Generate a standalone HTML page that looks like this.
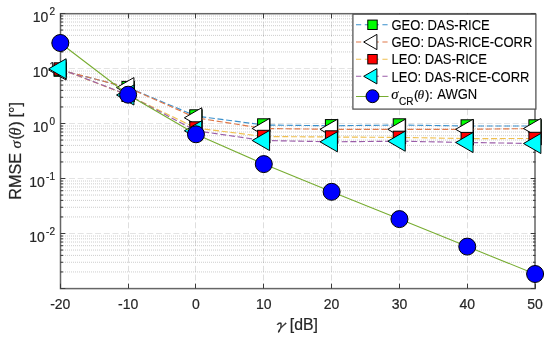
<!DOCTYPE html>
<html><head><meta charset="utf-8"><title>RMSE vs gamma</title>
<style>
html,body{margin:0;padding:0;background:#fff;}
body{width:550px;height:340px;overflow:hidden;}
svg{display:block;}
.t{font-family:"Liberation Sans",Arial,sans-serif;fill:#262626;stroke:currentColor;stroke-width:0.2px;color:#262626;}
.g{font-family:"IPAGothic","Liberation Serif",serif;font-style:italic;}
.s{font-family:"Liberation Serif",serif;font-style:italic;}
</style></head><body>
<div class="wrap"><svg width="550" height="340" viewBox="0 0 550 340">
<rect x="0" y="0" width="550" height="340" fill="#fff"/>
<g stroke="#000" stroke-opacity="0.2" stroke-width="1" stroke-dasharray="1 1" fill="none">
<line x1="61" y1="271.94" x2="535.1" y2="271.94"/>
<line x1="61" y1="262.26" x2="535.1" y2="262.26"/>
<line x1="61" y1="255.39" x2="535.1" y2="255.39"/>
<line x1="61" y1="250.06" x2="535.1" y2="250.06"/>
<line x1="61" y1="245.7" x2="535.1" y2="245.7"/>
<line x1="61" y1="242.02" x2="535.1" y2="242.02"/>
<line x1="61" y1="238.83" x2="535.1" y2="238.83"/>
<line x1="61" y1="236.02" x2="535.1" y2="236.02"/>
<line x1="61" y1="216.94" x2="535.1" y2="216.94"/>
<line x1="61" y1="207.26" x2="535.1" y2="207.26"/>
<line x1="61" y1="200.39" x2="535.1" y2="200.39"/>
<line x1="61" y1="195.06" x2="535.1" y2="195.06"/>
<line x1="61" y1="190.7" x2="535.1" y2="190.7"/>
<line x1="61" y1="187.02" x2="535.1" y2="187.02"/>
<line x1="61" y1="183.83" x2="535.1" y2="183.83"/>
<line x1="61" y1="181.02" x2="535.1" y2="181.02"/>
<line x1="61" y1="161.94" x2="535.1" y2="161.94"/>
<line x1="61" y1="152.26" x2="535.1" y2="152.26"/>
<line x1="61" y1="145.39" x2="535.1" y2="145.39"/>
<line x1="61" y1="140.06" x2="535.1" y2="140.06"/>
<line x1="61" y1="135.7" x2="535.1" y2="135.7"/>
<line x1="61" y1="132.02" x2="535.1" y2="132.02"/>
<line x1="61" y1="128.83" x2="535.1" y2="128.83"/>
<line x1="61" y1="126.02" x2="535.1" y2="126.02"/>
<line x1="61" y1="106.94" x2="535.1" y2="106.94"/>
<line x1="61" y1="97.26" x2="535.1" y2="97.26"/>
<line x1="61" y1="90.39" x2="535.1" y2="90.39"/>
<line x1="61" y1="85.06" x2="535.1" y2="85.06"/>
<line x1="61" y1="80.7" x2="535.1" y2="80.7"/>
<line x1="61" y1="77.02" x2="535.1" y2="77.02"/>
<line x1="61" y1="73.83" x2="535.1" y2="73.83"/>
<line x1="61" y1="71.02" x2="535.1" y2="71.02"/>
<line x1="61" y1="51.94" x2="535.1" y2="51.94"/>
<line x1="61" y1="42.26" x2="535.1" y2="42.26"/>
<line x1="61" y1="35.39" x2="535.1" y2="35.39"/>
<line x1="61" y1="30.06" x2="535.1" y2="30.06"/>
<line x1="61" y1="25.7" x2="535.1" y2="25.7"/>
<line x1="61" y1="22.02" x2="535.1" y2="22.02"/>
<line x1="61" y1="18.83" x2="535.1" y2="18.83"/>
<line x1="61" y1="16.02" x2="535.1" y2="16.02"/>
</g>
<g stroke="#000" stroke-opacity="0.11" stroke-width="1" stroke-dasharray="6 2.7" fill="none">
<line x1="60.3" y1="233.5" x2="535.1" y2="233.5"/>
<line x1="60.3" y1="178.5" x2="535.1" y2="178.5"/>
<line x1="60.3" y1="123.5" x2="535.1" y2="123.5"/>
<line x1="60.3" y1="68.5" x2="535.1" y2="68.5"/>
<line x1="128.5" y1="13.5" x2="128.5" y2="288.5" stroke-opacity="0.13"/>
<line x1="195.5" y1="13.5" x2="195.5" y2="288.5" stroke-opacity="0.13"/>
<line x1="263.5" y1="13.5" x2="263.5" y2="288.5" stroke-opacity="0.13"/>
<line x1="331.5" y1="13.5" x2="331.5" y2="288.5" stroke-opacity="0.13"/>
<line x1="399.5" y1="13.5" x2="399.5" y2="288.5" stroke-opacity="0.13"/>
<line x1="467.5" y1="13.5" x2="467.5" y2="288.5" stroke-opacity="0.13"/>
</g>
<g stroke="#3a3a3a" stroke-width="1.05" fill="none">
<rect x="60.5" y="13.7" width="474.5" height="274.9" stroke="#666" stroke-width="1.5"/>
<line x1="60.5" y1="288.5" x2="60.5" y2="283.7"/>
<line x1="60.5" y1="13.5" x2="60.5" y2="18.3"/>
<line x1="128.5" y1="288.5" x2="128.5" y2="283.7"/>
<line x1="128.5" y1="13.5" x2="128.5" y2="18.3"/>
<line x1="195.5" y1="288.5" x2="195.5" y2="283.7"/>
<line x1="195.5" y1="13.5" x2="195.5" y2="18.3"/>
<line x1="263.5" y1="288.5" x2="263.5" y2="283.7"/>
<line x1="263.5" y1="13.5" x2="263.5" y2="18.3"/>
<line x1="331.5" y1="288.5" x2="331.5" y2="283.7"/>
<line x1="331.5" y1="13.5" x2="331.5" y2="18.3"/>
<line x1="399.5" y1="288.5" x2="399.5" y2="283.7"/>
<line x1="399.5" y1="13.5" x2="399.5" y2="18.3"/>
<line x1="467.5" y1="288.5" x2="467.5" y2="283.7"/>
<line x1="467.5" y1="13.5" x2="467.5" y2="18.3"/>
<line x1="535.5" y1="288.5" x2="535.5" y2="283.7"/>
<line x1="535.5" y1="13.5" x2="535.5" y2="18.3"/>
<line x1="60.5" y1="288.5" x2="65.3" y2="288.5"/>
<line x1="535.5" y1="288.5" x2="530.7" y2="288.5"/>
<line x1="60.5" y1="233.5" x2="65.3" y2="233.5"/>
<line x1="535.5" y1="233.5" x2="530.7" y2="233.5"/>
<line x1="60.5" y1="178.5" x2="65.3" y2="178.5"/>
<line x1="535.5" y1="178.5" x2="530.7" y2="178.5"/>
<line x1="60.5" y1="123.5" x2="65.3" y2="123.5"/>
<line x1="535.5" y1="123.5" x2="530.7" y2="123.5"/>
<line x1="60.5" y1="68.5" x2="65.3" y2="68.5"/>
<line x1="535.5" y1="68.5" x2="530.7" y2="68.5"/>
<line x1="60.5" y1="13.5" x2="65.3" y2="13.5"/>
<line x1="535.5" y1="13.5" x2="530.7" y2="13.5"/>
<line x1="60.5" y1="271.94" x2="63.1" y2="271.94"/>
<line x1="535.5" y1="271.94" x2="532.9" y2="271.94"/>
<line x1="60.5" y1="262.26" x2="63.1" y2="262.26"/>
<line x1="535.5" y1="262.26" x2="532.9" y2="262.26"/>
<line x1="60.5" y1="255.39" x2="63.1" y2="255.39"/>
<line x1="535.5" y1="255.39" x2="532.9" y2="255.39"/>
<line x1="60.5" y1="250.06" x2="63.1" y2="250.06"/>
<line x1="535.5" y1="250.06" x2="532.9" y2="250.06"/>
<line x1="60.5" y1="245.7" x2="63.1" y2="245.7"/>
<line x1="535.5" y1="245.7" x2="532.9" y2="245.7"/>
<line x1="60.5" y1="242.02" x2="63.1" y2="242.02"/>
<line x1="535.5" y1="242.02" x2="532.9" y2="242.02"/>
<line x1="60.5" y1="238.83" x2="63.1" y2="238.83"/>
<line x1="535.5" y1="238.83" x2="532.9" y2="238.83"/>
<line x1="60.5" y1="236.02" x2="63.1" y2="236.02"/>
<line x1="535.5" y1="236.02" x2="532.9" y2="236.02"/>
<line x1="60.5" y1="216.94" x2="63.1" y2="216.94"/>
<line x1="535.5" y1="216.94" x2="532.9" y2="216.94"/>
<line x1="60.5" y1="207.26" x2="63.1" y2="207.26"/>
<line x1="535.5" y1="207.26" x2="532.9" y2="207.26"/>
<line x1="60.5" y1="200.39" x2="63.1" y2="200.39"/>
<line x1="535.5" y1="200.39" x2="532.9" y2="200.39"/>
<line x1="60.5" y1="195.06" x2="63.1" y2="195.06"/>
<line x1="535.5" y1="195.06" x2="532.9" y2="195.06"/>
<line x1="60.5" y1="190.7" x2="63.1" y2="190.7"/>
<line x1="535.5" y1="190.7" x2="532.9" y2="190.7"/>
<line x1="60.5" y1="187.02" x2="63.1" y2="187.02"/>
<line x1="535.5" y1="187.02" x2="532.9" y2="187.02"/>
<line x1="60.5" y1="183.83" x2="63.1" y2="183.83"/>
<line x1="535.5" y1="183.83" x2="532.9" y2="183.83"/>
<line x1="60.5" y1="181.02" x2="63.1" y2="181.02"/>
<line x1="535.5" y1="181.02" x2="532.9" y2="181.02"/>
<line x1="60.5" y1="161.94" x2="63.1" y2="161.94"/>
<line x1="535.5" y1="161.94" x2="532.9" y2="161.94"/>
<line x1="60.5" y1="152.26" x2="63.1" y2="152.26"/>
<line x1="535.5" y1="152.26" x2="532.9" y2="152.26"/>
<line x1="60.5" y1="145.39" x2="63.1" y2="145.39"/>
<line x1="535.5" y1="145.39" x2="532.9" y2="145.39"/>
<line x1="60.5" y1="140.06" x2="63.1" y2="140.06"/>
<line x1="535.5" y1="140.06" x2="532.9" y2="140.06"/>
<line x1="60.5" y1="135.7" x2="63.1" y2="135.7"/>
<line x1="535.5" y1="135.7" x2="532.9" y2="135.7"/>
<line x1="60.5" y1="132.02" x2="63.1" y2="132.02"/>
<line x1="535.5" y1="132.02" x2="532.9" y2="132.02"/>
<line x1="60.5" y1="128.83" x2="63.1" y2="128.83"/>
<line x1="535.5" y1="128.83" x2="532.9" y2="128.83"/>
<line x1="60.5" y1="126.02" x2="63.1" y2="126.02"/>
<line x1="535.5" y1="126.02" x2="532.9" y2="126.02"/>
<line x1="60.5" y1="106.94" x2="63.1" y2="106.94"/>
<line x1="535.5" y1="106.94" x2="532.9" y2="106.94"/>
<line x1="60.5" y1="97.26" x2="63.1" y2="97.26"/>
<line x1="535.5" y1="97.26" x2="532.9" y2="97.26"/>
<line x1="60.5" y1="90.39" x2="63.1" y2="90.39"/>
<line x1="535.5" y1="90.39" x2="532.9" y2="90.39"/>
<line x1="60.5" y1="85.06" x2="63.1" y2="85.06"/>
<line x1="535.5" y1="85.06" x2="532.9" y2="85.06"/>
<line x1="60.5" y1="80.7" x2="63.1" y2="80.7"/>
<line x1="535.5" y1="80.7" x2="532.9" y2="80.7"/>
<line x1="60.5" y1="77.02" x2="63.1" y2="77.02"/>
<line x1="535.5" y1="77.02" x2="532.9" y2="77.02"/>
<line x1="60.5" y1="73.83" x2="63.1" y2="73.83"/>
<line x1="535.5" y1="73.83" x2="532.9" y2="73.83"/>
<line x1="60.5" y1="71.02" x2="63.1" y2="71.02"/>
<line x1="535.5" y1="71.02" x2="532.9" y2="71.02"/>
<line x1="60.5" y1="51.94" x2="63.1" y2="51.94"/>
<line x1="535.5" y1="51.94" x2="532.9" y2="51.94"/>
<line x1="60.5" y1="42.26" x2="63.1" y2="42.26"/>
<line x1="535.5" y1="42.26" x2="532.9" y2="42.26"/>
<line x1="60.5" y1="35.39" x2="63.1" y2="35.39"/>
<line x1="535.5" y1="35.39" x2="532.9" y2="35.39"/>
<line x1="60.5" y1="30.06" x2="63.1" y2="30.06"/>
<line x1="535.5" y1="30.06" x2="532.9" y2="30.06"/>
<line x1="60.5" y1="25.7" x2="63.1" y2="25.7"/>
<line x1="535.5" y1="25.7" x2="532.9" y2="25.7"/>
<line x1="60.5" y1="22.02" x2="63.1" y2="22.02"/>
<line x1="535.5" y1="22.02" x2="532.9" y2="22.02"/>
<line x1="60.5" y1="18.83" x2="63.1" y2="18.83"/>
<line x1="535.5" y1="18.83" x2="532.9" y2="18.83"/>
<line x1="60.5" y1="16.02" x2="63.1" y2="16.02"/>
<line x1="535.5" y1="16.02" x2="532.9" y2="16.02"/>
</g>
<g class="t" font-size="14" text-anchor="middle">
<text x="60.3" y="308.5">-20</text>
<text x="128.13" y="308.5">-10</text>
<text x="195.96" y="308.5">0</text>
<text x="263.79" y="308.5">10</text>
<text x="331.61" y="308.5">20</text>
<text x="399.44" y="308.5">30</text>
<text x="467.27" y="308.5">40</text>
<text x="535.1" y="308.5">50</text>
</g>
<g class="t" font-size="14" text-anchor="end">
<text x="55" y="241.7">10<tspan font-size="10" dx="1.2" dy="-7">-2</tspan></text>
<text x="55" y="186.7">10<tspan font-size="10" dx="1.2" dy="-7">-1</tspan></text>
<text x="55" y="131.7">10<tspan font-size="10" dx="1.2" dy="-7">0</tspan></text>
<text x="55" y="76.7">10<tspan font-size="10" dx="1.2" dy="-7">1</tspan></text>
<text x="55" y="21.7">10<tspan font-size="10" dx="1.2" dy="-7">2</tspan></text>
</g>
<text class="t" font-size="15.8" y="329.5"><tspan class="g" x="271.9" y="330.7">γ</tspan><tspan x="289.8" y="329.5">[dB]</tspan></text>
<text class="t" font-size="16.2" transform="translate(21,0) rotate(-90)"><tspan x="-199.8">RMSE</tspan><tspan class="s" font-size="15.5" x="-148.6">σ</tspan><tspan x="-139.7">(</tspan><tspan class="s" x="-135.5">θ</tspan><tspan x="-126.7">)</tspan><tspan x="-117.6">[°]</tspan></text>
<polyline points="60.3,70.1 128.13,87.6 195.96,116 263.79,125 331.61,125.8 399.44,125 467.27,126 535.1,126" fill="none" stroke="#3a90cc" stroke-width="1.15" stroke-dasharray="6 2.7"/>
<rect x="54.1" y="63.9" width="12.4" height="12.4" fill="#00FF00" stroke="#000" stroke-width="1"/>
<rect x="121.93" y="81.4" width="12.4" height="12.4" fill="#00FF00" stroke="#000" stroke-width="1"/>
<rect x="189.76" y="109.8" width="12.4" height="12.4" fill="#00FF00" stroke="#000" stroke-width="1"/>
<rect x="257.59" y="118.8" width="12.4" height="12.4" fill="#00FF00" stroke="#000" stroke-width="1"/>
<rect x="325.41" y="119.6" width="12.4" height="12.4" fill="#00FF00" stroke="#000" stroke-width="1"/>
<rect x="393.24" y="118.8" width="12.4" height="12.4" fill="#00FF00" stroke="#000" stroke-width="1"/>
<rect x="461.07" y="119.8" width="12.4" height="12.4" fill="#00FF00" stroke="#000" stroke-width="1"/>
<rect x="528.9" y="119.8" width="12.4" height="12.4" fill="#00FF00" stroke="#000" stroke-width="1"/>
<polyline points="60.3,70 128.13,87.6 195.96,117.8 263.79,128.5 331.61,129.3 399.44,129.3 467.27,129.3 535.1,128.5" fill="none" stroke="#e0784a" stroke-width="1.15" stroke-dasharray="6 2.7"/>
<polygon points="48.7,70 66.1,59.95 66.1,80.05" fill="#FFFFFF" stroke="#000" stroke-width="1" stroke-linejoin="miter"/>
<polygon points="116.53,87.6 133.93,77.55 133.93,97.65" fill="#FFFFFF" stroke="#000" stroke-width="1" stroke-linejoin="miter"/>
<polygon points="184.36,117.8 201.76,107.75 201.76,127.85" fill="#FFFFFF" stroke="#000" stroke-width="1" stroke-linejoin="miter"/>
<polygon points="252.19,128.5 269.59,118.45 269.59,138.55" fill="#FFFFFF" stroke="#000" stroke-width="1" stroke-linejoin="miter"/>
<polygon points="320.01,129.3 337.41,119.25 337.41,139.35" fill="#FFFFFF" stroke="#000" stroke-width="1" stroke-linejoin="miter"/>
<polygon points="387.84,129.3 405.24,119.25 405.24,139.35" fill="#FFFFFF" stroke="#000" stroke-width="1" stroke-linejoin="miter"/>
<polygon points="455.67,129.3 473.07,119.25 473.07,139.35" fill="#FFFFFF" stroke="#000" stroke-width="1" stroke-linejoin="miter"/>
<polygon points="523.5,128.5 540.9,118.45 540.9,138.55" fill="#FFFFFF" stroke="#000" stroke-width="1" stroke-linejoin="miter"/>
<polyline points="60.3,69 128.13,95.3 195.96,128 263.79,136.5 331.61,137 399.44,137.4 467.27,138.6 535.1,138.5" fill="none" stroke="#f0c050" stroke-width="1.15" stroke-dasharray="6 2.7"/>
<rect x="54.1" y="62.8" width="12.4" height="12.4" fill="#FF0000" stroke="#000" stroke-width="1"/>
<rect x="121.93" y="89.1" width="12.4" height="12.4" fill="#FF0000" stroke="#000" stroke-width="1"/>
<rect x="189.76" y="121.8" width="12.4" height="12.4" fill="#FF0000" stroke="#000" stroke-width="1"/>
<rect x="257.59" y="130.3" width="12.4" height="12.4" fill="#FF0000" stroke="#000" stroke-width="1"/>
<rect x="325.41" y="130.8" width="12.4" height="12.4" fill="#FF0000" stroke="#000" stroke-width="1"/>
<rect x="393.24" y="131.2" width="12.4" height="12.4" fill="#FF0000" stroke="#000" stroke-width="1"/>
<rect x="461.07" y="132.4" width="12.4" height="12.4" fill="#FF0000" stroke="#000" stroke-width="1"/>
<rect x="528.9" y="132.3" width="12.4" height="12.4" fill="#FF0000" stroke="#000" stroke-width="1"/>
<polyline points="60.3,68.8 128.13,95 195.96,130.8 263.79,140.5 331.61,141.8 399.44,141.2 467.27,142.5 535.1,143.5" fill="none" stroke="#9a5ca8" stroke-width="1.15" stroke-dasharray="6 2.7"/>
<polygon points="48.7,68.8 66.1,58.75 66.1,78.85" fill="#00FFFF" stroke="#000" stroke-width="1" stroke-linejoin="miter"/>
<polygon points="116.53,95 133.93,84.95 133.93,105.05" fill="#00FFFF" stroke="#000" stroke-width="1" stroke-linejoin="miter"/>
<polygon points="184.36,130.8 201.76,120.75 201.76,140.85" fill="#00FFFF" stroke="#000" stroke-width="1" stroke-linejoin="miter"/>
<polygon points="252.19,140.5 269.59,130.45 269.59,150.55" fill="#00FFFF" stroke="#000" stroke-width="1" stroke-linejoin="miter"/>
<polygon points="320.01,141.8 337.41,131.75 337.41,151.85" fill="#00FFFF" stroke="#000" stroke-width="1" stroke-linejoin="miter"/>
<polygon points="387.84,141.2 405.24,131.15 405.24,151.25" fill="#00FFFF" stroke="#000" stroke-width="1" stroke-linejoin="miter"/>
<polygon points="455.67,142.5 473.07,132.45 473.07,152.55" fill="#00FFFF" stroke="#000" stroke-width="1" stroke-linejoin="miter"/>
<polygon points="523.5,143.5 540.9,133.45 540.9,153.55" fill="#00FFFF" stroke="#000" stroke-width="1" stroke-linejoin="miter"/>
<polyline points="60.3,43 128.13,94.7 195.96,134.3 263.79,164.1 331.61,191.8 399.44,219.1 467.27,246.6 535.1,274" fill="none" stroke="#77AC30" stroke-width="1.05"/>
<circle cx="60.3" cy="43" r="8.5" fill="#0000FF" stroke="#000" stroke-width="1"/>
<circle cx="128.13" cy="94.7" r="8.5" fill="#0000FF" stroke="#000" stroke-width="1"/>
<circle cx="195.96" cy="134.3" r="8.5" fill="#0000FF" stroke="#000" stroke-width="1"/>
<circle cx="263.79" cy="164.1" r="8.5" fill="#0000FF" stroke="#000" stroke-width="1"/>
<circle cx="331.61" cy="191.8" r="8.5" fill="#0000FF" stroke="#000" stroke-width="1"/>
<circle cx="399.44" cy="219.1" r="8.5" fill="#0000FF" stroke="#000" stroke-width="1"/>
<circle cx="467.27" cy="246.6" r="8.5" fill="#0000FF" stroke="#000" stroke-width="1"/>
<circle cx="535.1" cy="274" r="8.5" fill="#0000FF" stroke="#000" stroke-width="1"/>
<rect x="352.9" y="14.2" width="183" height="94.9" fill="#fff" stroke="#505050" stroke-width="1.25"/>
<line x1="356" y1="24.8" x2="388.5" y2="24.8" stroke="#3a90cc" stroke-width="1.1" stroke-dasharray="5.2 3.6"/>
<rect x="367.79" y="20.09" width="9.42" height="9.42" fill="#00FF00" stroke="#000" stroke-width="1"/>
<text class="t" font-size="14" transform="translate(391.5,30.2) scale(0.93,1)" style="fill:#000;stroke-width:0.12px">GEO: DAS-RICE</text>
<line x1="356" y1="42" x2="388.5" y2="42" stroke="#e0784a" stroke-width="1.1" stroke-dasharray="5.2 3.6"/>
<polygon points="363.68,42 376.91,34.37 376.91,49.63" fill="#FFFFFF" stroke="#000" stroke-width="1" stroke-linejoin="miter"/>
<text class="t" font-size="14" transform="translate(391.5,47.2) scale(0.93,1)" style="fill:#000;stroke-width:0.12px">GEO: DAS-RICE-CORR</text>
<line x1="356" y1="59.2" x2="388.5" y2="59.2" stroke="#f0c050" stroke-width="1.1" stroke-dasharray="5.2 3.6"/>
<rect x="367.79" y="54.49" width="9.42" height="9.42" fill="#FF0000" stroke="#000" stroke-width="1"/>
<text class="t" font-size="14" transform="translate(391.5,64.4) scale(0.93,1)" style="fill:#000;stroke-width:0.12px">LEO: DAS-RICE</text>
<line x1="356" y1="76.3" x2="388.5" y2="76.3" stroke="#9a5ca8" stroke-width="1.1" stroke-dasharray="5.2 3.6"/>
<polygon points="363.68,76.3 376.91,68.67 376.91,83.93" fill="#00FFFF" stroke="#000" stroke-width="1" stroke-linejoin="miter"/>
<text class="t" font-size="14" transform="translate(391.5,81.7) scale(0.93,1)" style="fill:#000;stroke-width:0.12px">LEO: DAS-RICE-CORR</text>
<line x1="356" y1="96.5" x2="388.5" y2="96.5" stroke="#77AC30" stroke-width="1.1"/>
<circle cx="372.5" cy="96.2" r="6.46" fill="#0000FF" stroke="#000" stroke-width="1"/>
<text class="t" font-size="13" y="99.2" style="fill:#000"><tspan class="s" font-size="14.5" x="391.3">σ</tspan><tspan font-size="10" x="399.1" y="104.5">CR</tspan><tspan x="414" y="99.2">(</tspan><tspan class="s" font-size="13.5" x="417.5">θ</tspan><tspan x="425">):</tspan></text>
<text class="t" font-size="14" transform="translate(437.3,99.4) scale(0.93,1)" style="fill:#000;stroke-width:0.12px">AWGN</text>
</svg></div>
</body></html>
